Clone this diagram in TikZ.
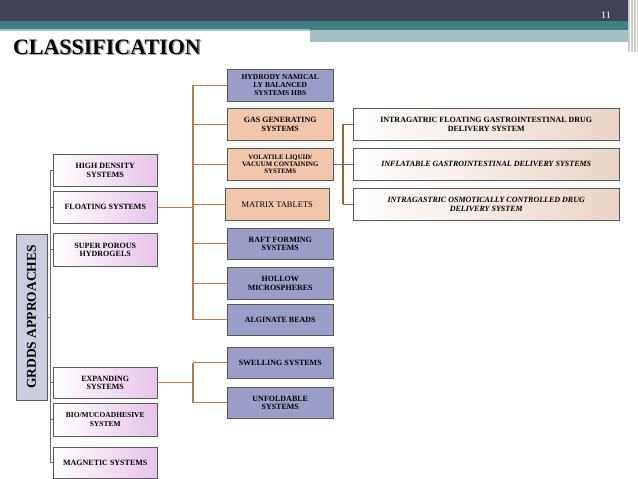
\documentclass[tikz,border=0pt]{standalone}
\usepackage{fontspec}
\setmainfont{Liberation Serif}
\usetikzlibrary{shadows}
\definecolor{hdr}{HTML}{42425A}
\definecolor{teal1}{HTML}{3F7E83}
\definecolor{teal2}{HTML}{A3C1C5}
\definecolor{blu}{HTML}{9B9DC9}
\definecolor{pch}{HTML}{F2C6AA}
\definecolor{pnk}{HTML}{E6C4E8}
\definecolor{gry}{HTML}{CBCEDC}
\definecolor{org}{HTML}{C07A45}
\definecolor{prp}{HTML}{7D5F80}
\tikzset{
  bx/.style={draw=gray!70!black,line width=0.5pt,anchor=north west,inner sep=1pt,align=center,
    font=\bfseries\fontsize{8}{8.5}\selectfont,
    drop shadow={shadow xshift=1.2pt,shadow yshift=-1.2pt,opacity=0.45}},
  bl/.style={bx,fill=blu},
  pc/.style={bx,fill=pch},
  pk/.style={bx,left color=white,right color=pnk},
  wt/.style={bx,left color=white,right color=pch!80!gray!60},
  oln/.style={draw=org,line width=1.3pt},
  pln/.style={draw=prp,line width=1pt},
}
\begin{document}
\begin{tikzpicture}[x=1pt,y=-1pt]
\useasboundingbox (0,0) rectangle (638,479);
\fill[hdr] (0,0) rectangle (638,22);
\fill[teal1] (0,21) rectangle (628,30);
\fill[teal2] (0,29) rectangle (310,31);
\fill[teal2] (310,30) rectangle (628,42);
\fill[gray!40] (628,0) rectangle (638,52);
\foreach \xx in {630,633,636} \draw[white,line width=0.8pt] (\xx,0) -- (\xx,52);
\node[text=white,font=\fontsize{10}{11}\selectfont] (pg) at (606,15) {11};
\node[gray!70,anchor=west,font=\bfseries\fontsize{22}{23}\selectfont] at (10.8,48.8) {CLASSIFICATION};
\node[anchor=west,font=\bfseries\fontsize{22}{23}\selectfont] (title) at (9.5,47.5) {CLASSIFICATION};

% GRDDS
\node[bx,fill=gry,minimum width=166pt,minimum height=31pt,rotate=90,anchor=center,font=\bfseries\fontsize{13.5}{14}\selectfont] (gr) at (31.5,317) {GRDDS APPROACHES};

% left column
\node[pk,minimum width=104pt,minimum height=32pt] (hd) at (53,154) {HIGH DENSITY\\SYSTEMS};
\node[pk,minimum width=104pt,minimum height=32pt] (fl) at (53,191) {FLOATING SYSTEMS};
\node[pk,minimum width=104pt,minimum height=33pt] (sp) at (53,233) {SUPER POROUS\\HYDROGELS};
\node[pk,minimum width=104pt,minimum height=31pt] (ex) at (53,367) {EXPANDING\\SYSTEMS};
\node[pk,minimum width=104pt,minimum height=33pt,font=\bfseries\fontsize{7.5}{8.5}\selectfont] (bio) at (53,403) {BIO/MUCOADHESIVE\\SYSTEM};
\node[pk,minimum width=104pt,minimum height=31pt] (mag) at (53,447) {MAGNETIC SYSTEMS};

% middle column
\node[bl,minimum width=106pt,minimum height=32pt,font=\bfseries\fontsize{7.5}{8}\selectfont] (hbs) at (227,69) {HYDRODY NAMICAL\\LY BALANCED\\SYSTEMS HBS};
\node[pc,minimum width=106pt,minimum height=32pt] (gas) at (227,108) {GAS GENERATING\\SYSTEMS};
\node[pc,minimum width=106pt,minimum height=32pt,font=\bfseries\fontsize{6.8}{7.3}\selectfont] (vol) at (227,148) {VOLATILE LIQUID/\\VACUUM CONTAINING\\SYSTEMS};
\node[pc,minimum width=104pt,minimum height=32pt,font=\fontsize{8.5}{9}\selectfont] (mat) at (225,188) {MATRIX TABLETS};
\node[bl,minimum width=106pt,minimum height=31pt] (raft) at (227,228) {RAFT FORMING\\SYSTEMS};
\node[bl,minimum width=106pt,minimum height=32pt] (hol) at (227,267) {HOLLOW\\MICROSPHERES};
\node[bl,minimum width=106pt,minimum height=31pt] (alg) at (227,304) {ALGINATE BEADS};
\node[bl,minimum width=106pt,minimum height=31pt] (sw) at (227,347) {SWELLING SYSTEMS};
\node[bl,minimum width=106pt,minimum height=31pt] (unf) at (227,387) {UNFOLDABLE\\SYSTEMS};

% right column
\node[wt,minimum width=266pt,minimum height=32pt] (r1) at (353,108) {INTRAGATRIC FLOATING GASTROINTESTINAL DRUG\\DELIVERY SYSTEM};
\node[wt,minimum width=266pt,minimum height=32pt,font=\bfseries\itshape\fontsize{8}{8.5}\selectfont] (r2) at (353,148) {INFLATABLE GASTROINTESTINAL DELIVERY SYSTEMS};
\node[wt,minimum width=266pt,minimum height=32pt,font=\bfseries\itshape\fontsize{8}{8.5}\selectfont] (r3) at (353,188) {INTRAGASTRIC OSMOTICALLY CONTROLLED DRUG\\DELIVERY SYSTEM};

% left tree
\coordinate (ls) at (50,0);
\draw[pln] (ls |- hd.west) -- (ls |- mag.west);
\foreach \n in {hd,fl,sp,ex,bio,mag} \draw[pln] (ls |- \n.west) -- (\n.west);
\draw[pln] (gr.south) -- (ls |- gr.south);

% floating tree
\coordinate (ms) at (193,0);
\draw[oln] (ms |- hbs.west) -- (ms |- alg.west);
\draw[oln] (fl.east) -- (ms |- fl.east);
\foreach \n in {hbs,gas,vol,mat,raft,hol,alg} \draw[oln] (ms |- \n.west) -- (\n.west);

% expanding tree
\draw[oln] (ms |- sw.west) -- (ms |- unf.west);
\draw[oln] (ex.east) -- (ms |- ex.east);
\foreach \n in {sw,unf} \draw[oln] (ms |- \n.west) -- (\n.west);

% volatile tree
\coordinate (rs) at (343,0);
\draw[oln,draw=org!80!black] (rs |- r1.west) -- (rs |- r3.west);
\draw[oln,draw=org!80!black] (vol.east) -- (rs |- vol.east);
\foreach \n in {r1,r2,r3} \draw[oln,draw=org!80!black] (rs |- \n.west) -- (\n.west);
\end{tikzpicture}
\end{document}
